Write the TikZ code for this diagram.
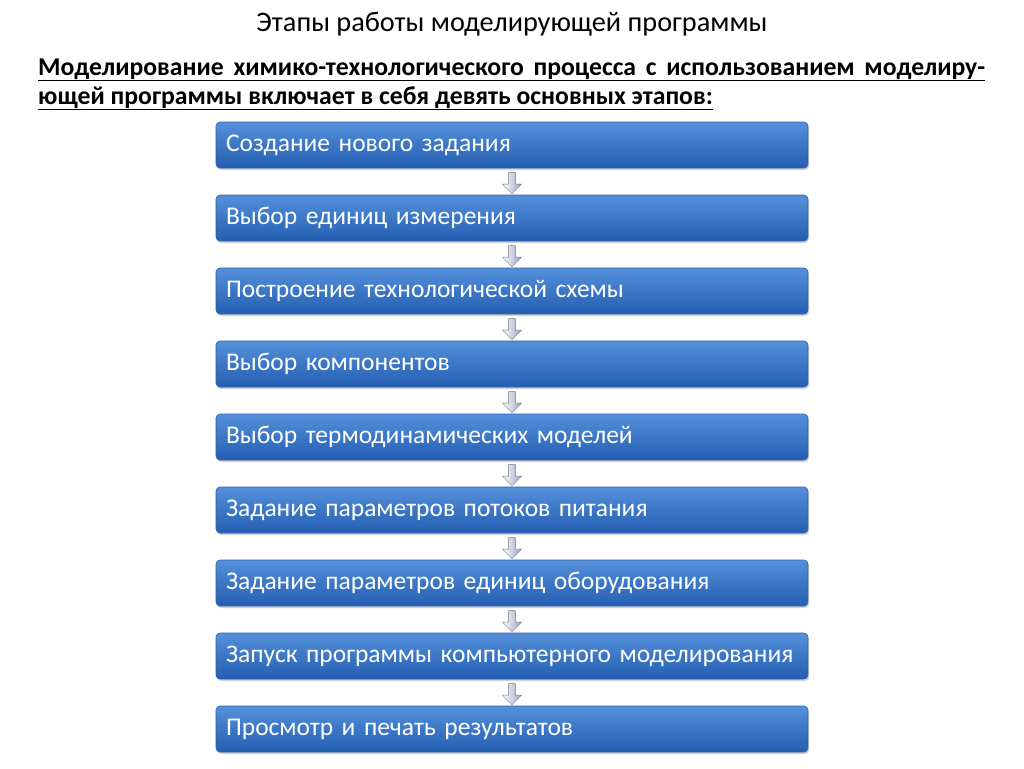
\documentclass[tikz,border=0pt]{standalone}
\usepackage{fontspec}
\setmainfont{Carlito}
\usetikzlibrary{shapes.arrows,shadows}
\definecolor{boxtop}{RGB}{84,144,218}
\definecolor{boxbot}{RGB}{36,94,178}
\definecolor{boxline}{RGB}{48,98,168}
\definecolor{arrline}{RGB}{110,120,140}
\tikzset{
  stepbox/.style={rounded corners=4pt, minimum width=592pt, minimum height=46pt,
    text width=572pt, inner xsep=10pt, align=left, text=white,
    top color=boxtop, bottom color=boxbot, draw=boxline, line width=0.6pt,
    drop shadow={shadow xshift=1pt, shadow yshift=-2pt, opacity=0.35},
    font=\fontsize{25.5}{30}\selectfont},
  downarr/.style={single arrow, shape border rotate=270, minimum height=21pt,
    minimum width=19pt, single arrow head extend=4pt, inner sep=2pt,
    left color=white, right color={rgb,255:red,150;green,165;blue,195}, draw=arrline, line width=0.4pt}
}
\begin{document}
\begin{tikzpicture}[x=1pt,y=-1pt]
\useasboundingbox (0,0) rectangle (1024,768);
\fill[white] (0,0) rectangle (1024,768);
\node[anchor=base, font=\fontsize{28.3}{34}\selectfont] (title) at (512,32) {Этапы работы моделирующей программы};
\node[anchor=base west, inner sep=0pt, font=\bfseries\fontsize{25.7}{30}\selectfont] (sub1) at (38,75)
  {\underline{\makebox[947pt][s]{Моделирование химико-технологического процесса с использованием моделиру-}}};
\node[anchor=base west, inner sep=0pt, font=\bfseries\fontsize{25.7}{30}\selectfont] (sub2) at (38,104)
  {\underline{ющей программы включает в себя девять основных этапов:}};
\foreach \t [count=\i] in {Создание нового задания,Выбор единиц измерения,Построение технологической схемы,Выбор компонентов,Выбор термодинамических моделей,Задание параметров потоков питания,Задание параметров единиц оборудования,Запуск программы компьютерного моделирования,Просмотр и печать результатов}{
  \node[stepbox] (b\i) at (512,{145+73*(\i-1)}) {\t};
}
\foreach \i [evaluate=\i as \j using int(\i+1)] in {1,...,8}{
  \path (b\i.south) -- (b\j.north) node[midway, downarr] (a\i) {};
}
\end{tikzpicture}
\end{document}
